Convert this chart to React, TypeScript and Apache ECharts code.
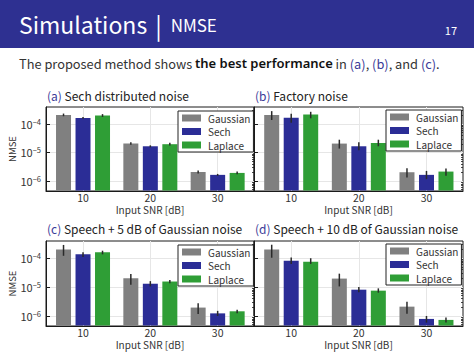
import React, { useEffect, useRef } from 'react';
import * as echarts from 'echarts';

const FONT = '"Noto Sans CJK JP", "Noto Sans", sans-serif';

const SNR = [10, 20, 30];
const X_TICKS = [10, 20, 30];
const METHODS = ['Gaussian', 'Sech', 'Laplace'];
const COLORS = ['#808080', '#2b2d96', '#2f9e36'];
const Y_MAJOR = [1e-6, 1e-5, 1e-4];
const Y_MINOR = [
  5e-7, 6e-7, 7e-7, 8e-7, 9e-7,
  2e-6, 3e-6, 4e-6, 5e-6, 6e-6, 7e-6, 8e-6, 9e-6,
  2e-5, 3e-5, 4e-5, 5e-5, 6e-5, 7e-5, 8e-5, 9e-5,
  2e-4, 3e-4,
];
const Y_MIN = 4.5e-7;
const Y_MAX = 3.9e-4;

const PANEL_TITLES = [
  ['(a)', ' Sech distributed noise'],
  ['(b)', ' Factory noise'],
  ['(c)', ' Speech + 5 dB of Gaussian noise'],
  ['(d)', ' Speech + 10 dB of Gaussian noise'],
];

// rows: Gaussian, Sech, Laplace ; columns: SNR 10, 20, 30
const A_MEAN = [[2.05e-4, 2.05e-5, 2.08e-6], [1.62e-4, 1.65e-5, 1.65e-6], [1.95e-4, 1.95e-5, 1.93e-6]];
const A_LOW = [[1.85e-4, 1.85e-5, 1.85e-6], [1.5e-4, 1.52e-5, 1.52e-6], [1.75e-4, 1.75e-5, 1.72e-6]];
const A_HIGH = [[2.3e-4, 2.3e-5, 2.35e-6], [1.75e-4, 1.78e-5, 1.78e-6], [2.2e-4, 2.2e-5, 2.18e-6]];

const B_MEAN = [[2.05e-4, 2.05e-5, 2.04e-6], [1.65e-4, 1.65e-5, 1.65e-6], [2.15e-4, 2.15e-5, 2.15e-6]];
const B_LOW = [[1.37e-4, 1.37e-5, 1.34e-6], [1.1e-4, 1.21e-5, 1.17e-6], [1.57e-4, 1.65e-5, 1.55e-6]];
const B_HIGH = [[2.8e-4, 2.8e-5, 2.8e-6], [2.26e-4, 2.27e-5, 2.27e-6], [2.65e-4, 2.8e-5, 2.75e-6]];

const C_MEAN = [[2.0e-4, 2.0e-5, 1.95e-6], [1.35e-4, 1.3e-5, 1.23e-6], [1.6e-4, 1.55e-5, 1.45e-6]];
const C_LOW = [[1.2e-4, 1.2e-5, 1.17e-6], [1.1e-4, 1.05e-5, 1.0e-6], [1.35e-4, 1.35e-5, 1.25e-6]];
const C_HIGH = [[2.85e-4, 2.8e-5, 2.75e-6], [1.6e-4, 1.6e-5, 1.5e-6], [1.8e-4, 1.75e-5, 1.65e-6]];

const D_MEAN = [[2.0e-4, 1.96e-5, 2.1e-6], [8.05e-5, 8.1e-6, 7.9e-7], [7.5e-5, 7.5e-6, 7.3e-7]];
const D_LOW = [[1.03e-4, 1.05e-5, 1.2e-6], [6.2e-5, 6.6e-6, 5.9e-7], [6.3e-5, 6.4e-6, 6.0e-7]];
const D_HIGH = [[2.9e-4, 2.9e-5, 3.1e-6], [1.05e-4, 1.0e-5, 1.0e-6], [9.9e-5, 9.0e-6, 8.9e-7]];

const PANELS = [
  { mean: A_MEAN, low: A_LOW, high: A_HIGH },
  { mean: B_MEAN, low: B_LOW, high: B_HIGH },
  { mean: C_MEAN, low: C_LOW, high: C_HIGH },
  { mean: D_MEAN, low: D_LOW, high: D_HIGH },
];

// layout (styles)
const GRIDS = [
  { left: 46, top: 107, width: 208, height: 84 },
  { left: 254, top: 107, width: 209, height: 84 },
  { left: 46, top: 241, width: 208, height: 85 },
  { left: 254, top: 241, width: 209, height: 85 },
];
const LEGEND_POS = [
  { left: 178, top: 111 },
  { left: 386, top: 110 },
  { left: 178, top: 245 },
  { left: 386, top: 244 },
];
const TITLE_POS = [
  { left: 47, top: 87 },
  { left: 255, top: 87 },
  { left: 47, top: 220 },
  { left: 255, top: 220 },
];
const BAR_W = 15;
const STEP = 19.5;

export default function App() {
  const ref = useRef<HTMLDivElement>(null);
  useEffect(() => {
    document.body.style.margin = '0';
    if (!ref.current) return;
    const chart = echarts.init(ref.current, undefined, { renderer: 'svg' });

    const grid: any[] = [];
    const xAxis: any[] = [];
    const yAxis: any[] = [];
    const series: any[] = [];
    const legend: any[] = [];
    const title: any[] = [];

    GRIDS.forEach((g, p) => {
      grid.push({
        ...g,
        show: true,
        borderColor: '#1a1a1a',
        borderWidth: 1,
        backgroundColor: '#fff',
      });
      xAxis.push({
        type: 'value',
        gridIndex: p,
        min: 4.5,
        max: 35.4,
        axisLine: { show: true, lineStyle: { color: '#1a1a1a', width: 1 } },
        axisTick: { show: false, customValues: X_TICKS },
        axisLabel: { customValues: X_TICKS, margin: 1, fontSize: 10.5, lineHeight: 10, color: '#333', fontFamily: FONT },
        splitLine: { show: true, lineStyle: { color: '#e6e6e6', width: 1 } },
        name: 'Input SNR [dB]',
        nameLocation: 'middle',
        nameGap: 13.5,
        nameTextStyle: { fontSize: 10, lineHeight: 10, color: '#333', fontFamily: FONT },
      });
      const showLabels = p % 2 === 0;
      yAxis.push({
        type: 'log',
        logBase: 10,
        gridIndex: p,
        min: Y_MIN,
        max: Y_MAX,
        axisLine: { show: true, lineStyle: { color: '#1a1a1a', width: 1 } },
        axisTick: { show: true, inside: true, length: 4, customValues: Y_MAJOR, lineStyle: { color: '#1a1a1a' } },
        axisLabel: {
          show: showLabels,
          customValues: Y_MAJOR,
          margin: 5,
          formatter: (v: number) => `{b|10}{s|\u2212${Math.round(-Math.log10(v))}}`,
          rich: {
            b: { fontSize: 11, color: '#333', fontFamily: FONT, lineHeight: 13 },
            s: { fontSize: 7.5, color: '#333', fontFamily: FONT, verticalAlign: 'top', lineHeight: 9 },
          },
        },
        splitLine: { show: true, lineStyle: { color: '#e6e6e6', width: 1 } },
        name: showLabels ? 'NMSE' : '',
        nameLocation: 'middle',
        nameGap: 22,
        nameTextStyle: { fontSize: 9.5, color: '#333', fontFamily: FONT },
      });
      yAxis.push({
        type: 'log',
        logBase: 10,
        gridIndex: p,
        min: Y_MIN,
        max: Y_MAX,
        axisLine: { show: false },
        axisTick: { show: true, inside: true, length: 2, customValues: Y_MINOR, lineStyle: { color: '#1a1a1a', width: 0.8 } },
        axisLabel: { show: false },
        splitLine: { show: false },
      });

      const panel = PANELS[p];
      METHODS.forEach((name, m) => {
        series.push({
          type: 'custom',
          name,
          xAxisIndex: p,
          yAxisIndex: p * 2,
          clip: true,
          itemStyle: { color: COLORS[m] },
          encode: { x: 0, y: [1, 2, 3] },
          data: SNR.map((s, i) => [s, panel.mean[m][i], panel.low[m][i], panel.high[m][i]]),
          renderItem: (params: any, api: any) => {
            const x = api.value(0);
            const top = api.coord([x, api.value(1)]);
            const lo = api.coord([x, api.value(2)]);
            const hi = api.coord([x, api.value(3)]);
            const cs = params.coordSys;
            const bottom = cs.y + cs.height - 0.5;
            const cx = top[0] + (m - 1) * STEP;
            return {
              type: 'group',
              children: [
                {
                  type: 'rect',
                  shape: { x: cx - BAR_W / 2, y: top[1], width: BAR_W, height: bottom - top[1] },
                  style: { fill: COLORS[m] },
                },
                {
                  type: 'line',
                  shape: { x1: cx, y1: lo[1], x2: cx, y2: hi[1] },
                  style: { stroke: '#2a2a2a', lineWidth: 1.5 },
                },
              ],
            };
          },
        });
      });

      legend.push({
        ...LEGEND_POS[p],
        orient: 'vertical',
        data: METHODS,
        icon: 'rect',
        itemWidth: 19,
        itemHeight: 7,
        itemGap: 1.5,
        padding: [1, 3, 1, 4],
        borderColor: '#222',
        borderWidth: 1,
        borderRadius: 0,
        backgroundColor: '#fff',
        selectedMode: false,
        textStyle: { fontSize: 10, color: '#333', fontFamily: FONT, lineHeight: 12, padding: [0, 0, 0, 2] },
        z: 10,
      });

      title.push({
        ...TITLE_POS[p],
        padding: 0,
        text: `{p|${PANEL_TITLES[p][0]}}{t|${PANEL_TITLES[p][1]}}`,
        textStyle: {
          fontWeight: 'normal',
          rich: {
            p: { fontSize: 12, color: '#3b3b98', fontFamily: FONT, fontWeight: 'normal', lineHeight: 16 },
            t: { fontSize: 12, color: '#222', fontFamily: FONT, fontWeight: 'normal', lineHeight: 16 },
          },
        },
      });
    });

    const option: any = {
      animation: false,
      backgroundColor: '#fff',
      textStyle: { fontFamily: FONT },
      grid,
      xAxis,
      yAxis,
      series,
      legend,
      title,
      graphic: [
        { type: 'rect', z: 0, shape: { x: 0, y: 0, width: 474, height: 48 }, style: { fill: '#2e3091' } },
        {
          type: 'text',
          x: 19,
          y: 24,
          style: {
            text: '{t|Simulations}{p||}{n|NMSE}',
            verticalAlign: 'middle',
            rich: {
              t: { fontSize: 23, fill: '#fff', fontFamily: FONT },
              p: { fontSize: 24, fill: '#fff', fontFamily: FONT, padding: [0, 9, 0, 8] },
              n: { fontSize: 17, fill: '#fff', fontFamily: FONT },
            },
          },
        },
        {
          type: 'text',
          x: 457,
          y: 30,
          style: { text: '17', fill: '#fff', fontSize: 11, fontFamily: FONT, align: 'right', verticalAlign: 'middle' },
        },
        {
          type: 'text',
          x: 19,
          y: 63,
          style: {
            text: '{n|The proposed method shows }{b|the best performance}{n| in }{c|(a)}{n|, }{c|(b)}{n|, and }{c|(c)}{n|.}',
            verticalAlign: 'middle',
            rich: {
              n: { fontSize: 12.8, fill: '#333', fontFamily: FONT },
              b: { fontSize: 13, fill: '#111', fontFamily: '"Noto Sans", sans-serif', fontWeight: 600 },
              c: { fontSize: 12.8, fill: '#3b3b98', fontFamily: FONT },
            },
          },
        },
      ],
    };
    chart.setOption(option);
    return () => chart.dispose();
  }, []);
  return <div ref={ref} style={{ position: 'absolute', left: 0, top: 0, width: 474, height: 355 }} />;
}
